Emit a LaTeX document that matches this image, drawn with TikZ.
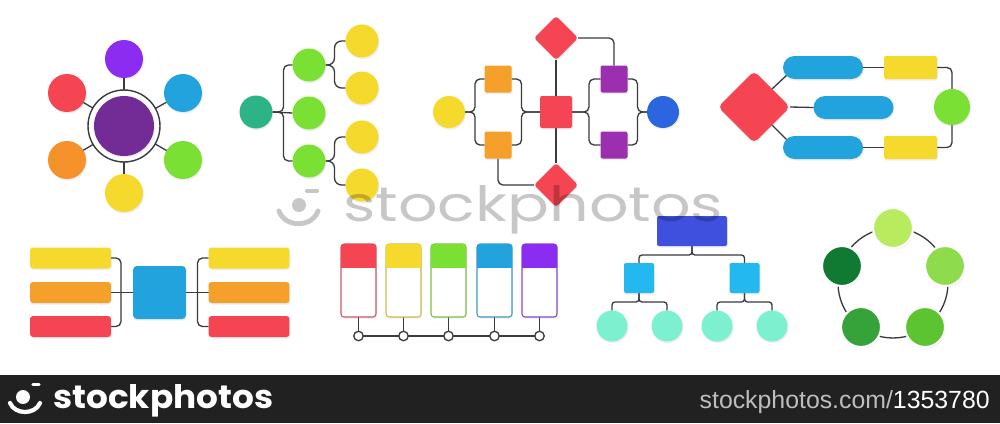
\documentclass[tikz,border=0pt]{standalone}
\usepackage{fontspec}
\usetikzlibrary{shapes.geometric,shadows,calc}
\newfontfamily\logofont{Poppins}
\newfontfamily\urlfont{Liberation Sans}
\definecolor{lineC}{HTML}{3A3A40}
\definecolor{cPurple}{HTML}{8B2CF0}
\definecolor{cDeep}{HTML}{732B95}
\definecolor{cRed}{HTML}{F54452}
\definecolor{cBlue}{HTML}{22A3DE}
\definecolor{cOrange}{HTML}{F5922B}
\definecolor{cOrange2}{HTML}{F5A02A}
\definecolor{cGreen}{HTML}{7BE034}
\definecolor{cYellow}{HTML}{F6D92D}
\definecolor{cTeal}{HTML}{2DB486}
\definecolor{cViolet}{HTML}{9C2FB0}
\definecolor{cRoyal}{HTML}{2B66E0}
\definecolor{cIndigo}{HTML}{4050DE}
\definecolor{cCyan}{HTML}{23B9F0}
\definecolor{cMint}{HTML}{7DF0CF}
\definecolor{gA}{HTML}{B8EC5E}
\definecolor{gB}{HTML}{8EDC4C}
\definecolor{gC}{HTML}{5CC431}
\definecolor{gD}{HTML}{35A339}
\definecolor{gE}{HTML}{107A33}
\definecolor{barC}{HTML}{212121}
\definecolor{urlGrey}{HTML}{BDBDBD}
\pgfdeclarelayer{back}
\pgfdeclarelayer{bg}
\pgfsetlayers{back,bg,main}
\begin{document}
\begin{tikzpicture}[x=0.02cm,y=-0.02cm,
  conn/.style={draw=lineC, line width=0.75pt, rounded corners=0.1cm},
  shd/.style={drop shadow={opacity=0.13, shadow xshift=0.5pt, shadow yshift=-0.9pt}},
  dot/.style={circle, inner sep=0pt, outer sep=0pt, minimum size=#1, shd},
  blk/.style={rectangle, inner sep=0pt, outer sep=0pt, shd},
  dia/.style={diamond, aspect=1, inner sep=0pt, outer sep=0pt, minimum width=#1, minimum height=#1, shd},
]
\useasboundingbox (0,0) rectangle (1000,423);
\begin{pgfonlayer}{back}
\fill[white] (0,0) rectangle (1000,423);
\end{pgfonlayer}

% ---------- Group 1: radial ----------
\node[circle, draw=lineC, line width=0.8pt, fill=white, minimum size=1.44cm, inner sep=0pt, outer sep=0pt] (ring) at (124,126) {};
\node[dot=1.2cm, fill=cDeep] (hub) at (124,126) {};
\node[dot=0.76cm, fill=cPurple] (r1) at (124,59) {};
\node[dot=0.76cm, fill=cRed] (r2) at (67,93) {};
\node[dot=0.76cm, fill=cBlue] (r3) at (183,93) {};
\node[dot=0.76cm, fill=cOrange] (r4) at (67,160) {};
\node[dot=0.76cm, fill=cGreen] (r5) at (183,160) {};
\node[dot=0.76cm, fill=cYellow] (r6) at (124,193) {};
\foreach \n in {r1,r2,r3,r4,r5,r6} \draw[conn] (ring) -- (\n);

% ---------- Group 2: tree ----------
\node[dot=0.66cm, fill=cTeal] (root) at (256,112) {};
\node[dot=0.66cm, fill=cGreen] (g1) at (309,65) {};
\node[dot=0.66cm, fill=cGreen] (g2) at (309,113) {};
\node[dot=0.66cm, fill=cGreen] (g3) at (309,161) {};
\node[dot=0.66cm, fill=cYellow] (y1) at (362,41) {};
\node[dot=0.66cm, fill=cYellow] (y2) at (362,88) {};
\node[dot=0.66cm, fill=cYellow] (y3) at (362,137) {};
\node[dot=0.66cm, fill=cYellow] (y4) at (362,185) {};
\begin{pgfonlayer}{bg}
\draw[conn] (root.east) -- ++(11,0) |- (g1.west);
\draw[conn] (root.east) -- (g2.west);
\draw[conn] (root.east) -- ++(11,0) |- (g3.west);
\draw[conn, rounded corners=0.14cm] (g1.east) -- ++(9,0) |- (y1.west);
\draw[conn, rounded corners=0.14cm] (g1.east) -- ++(9,0) |- (y2.west);
\draw[conn, rounded corners=0.14cm] (g3.east) -- ++(9,0) |- (y3.west);
\draw[conn, rounded corners=0.14cm] (g3.east) -- ++(9,0) |- (y4.west);
\end{pgfonlayer}

% ---------- Group 3: flowchart ----------
\node[dot=0.64cm, fill=cYellow] (fy) at (449,112) {};
\node[blk, fill=cOrange2, minimum size=0.54cm, rounded corners=0.04cm] (fo1) at (498,79) {};
\node[blk, fill=cOrange2, minimum size=0.54cm, rounded corners=0.04cm] (fo2) at (498,145) {};
\node[blk, fill=cRed, minimum size=0.64cm, rounded corners=0.04cm] (frs) at (556,112) {};
\node[dia=0.88cm, fill=cRed, rounded corners=0.06cm] (fd1) at (556,38) {};
\node[dia=0.88cm, fill=cRed, rounded corners=0.06cm] (fd2) at (556,185) {};
\node[blk, fill=cViolet, minimum size=0.54cm, rounded corners=0.04cm] (fp1) at (614,79) {};
\node[blk, fill=cViolet, minimum size=0.54cm, rounded corners=0.04cm] (fp2) at (614,145) {};
\node[dot=0.64cm, fill=cRoyal] (fb) at (663,112) {};
\begin{pgfonlayer}{bg}
\draw[conn] (fy.east) -- ++(10,0) |- (fo1.west);
\draw[conn] (fy.east) -- ++(10,0) |- (fo2.west);
\draw[conn] (fo1.east) -- ++(10,0) |- (frs.west);
\draw[conn] (fo2.east) -- ++(10,0) |- (frs.west);
\draw[conn] (frs.east) -- ++(17,0) |- (fp1.west);
\draw[conn] (frs.east) -- ++(17,0) |- (fp2.west);
\draw[conn] (fp1.east) -- ++(10,0) |- (fb.west);
\draw[conn] (fp2.east) -- ++(10,0) |- (fb.west);
\draw[conn] (fd1) -- (frs);
\draw[conn] (frs) -- (fd2);
\draw[conn] (fd1.east) -| (fp1.north);
\draw[conn] (fd2.west) -| (fo2.south);
\end{pgfonlayer}

% ---------- Group 4: decision ----------
\node[dia=1.44cm, fill=cRed, rounded corners=0.1cm] (dd) at (754,107) {};
\node[blk, fill=cBlue, minimum width=1.6cm, minimum height=0.46cm, rounded corners=0.23cm] (pb1) at (823,67.5) {};
\node[blk, fill=cBlue, minimum width=1.6cm, minimum height=0.46cm, rounded corners=0.23cm] (pb2) at (853.5,107.5) {};
\node[blk, fill=cBlue, minimum width=1.6cm, minimum height=0.46cm, rounded corners=0.23cm] (pb3) at (823,147.5) {};
\node[blk, fill=cYellow, minimum width=1.06cm, minimum height=0.46cm, rounded corners=0.03cm] (py1) at (910.5,67.5) {};
\node[blk, fill=cYellow, minimum width=1.06cm, minimum height=0.46cm, rounded corners=0.03cm] (py2) at (910.5,147.5) {};
\node[dot=0.72cm, fill=cGreen] (pg) at (952,107) {};
\begin{pgfonlayer}{bg}
\draw[conn] (dd.north east) -- ($(pb1.south west)+(5,-5)$);
\draw[conn] (dd.east) -- (pb2.west);
\draw[conn] (dd.south east) -- ($(pb3.north west)+(5,5)$);
\draw[conn] (pb1.east) -- (py1.west);
\draw[conn] (pb3.east) -- (py2.west);
\draw[conn] (py1.east) -| (pg.north);
\draw[conn] (py2.east) -| (pg.south);
\end{pgfonlayer}

% ---------- Group 5: bars ----------
\node[blk, fill=cYellow, minimum width=1.62cm, minimum height=0.42cm, rounded corners=0.06cm] (la) at (70.5,258) {};
\node[blk, fill=cOrange2, minimum width=1.62cm, minimum height=0.42cm, rounded corners=0.06cm] (lb) at (70.5,292.5) {};
\node[blk, fill=cRed, minimum width=1.62cm, minimum height=0.42cm, rounded corners=0.06cm] (lc) at (70.5,326.5) {};
\node[blk, fill=cBlue, minimum size=1.06cm, rounded corners=0.08cm] (bsq) at (159.5,292.5) {};
\node[blk, fill=cYellow, minimum width=1.62cm, minimum height=0.42cm, rounded corners=0.06cm] (ra) at (249,258) {};
\node[blk, fill=cOrange2, minimum width=1.62cm, minimum height=0.42cm, rounded corners=0.06cm] (rb) at (249,292.5) {};
\node[blk, fill=cRed, minimum width=1.62cm, minimum height=0.42cm, rounded corners=0.06cm] (rc) at (249,326.5) {};
\begin{pgfonlayer}{bg}
\draw[conn] (la.east) -- ++(10,0) |- (lc.east);
\draw[conn] (lb.east) -- (bsq.west);
\draw[conn] (ra.west) -- ++(-11,0) |- (rc.west);
\draw[conn] (bsq.east) -- (rb.west);
\end{pgfonlayer}

% ---------- Group 6: cards ----------
\foreach \i/\xx/\col in {1/358.5/cRed,2/403.5/cYellow,3/448.5/cGreen,4/494.5/cBlue,5/539.5/cPurple}{
  \node[blk, draw=\col!65!gray, line width=0.6pt, fill=white, minimum width=0.7cm, minimum height=1.46cm, rounded corners=0.06cm] (c\i) at (\xx,280.5) {};
  \begin{scope}
    \clip[rounded corners=0.06cm] (\xx-17.5,244) rectangle (\xx+17.5,317);
    \fill[\col] (\xx-18,243) rectangle (\xx+18,268);
  \end{scope}
  \node[circle, draw=lineC, line width=0.75pt, fill=white, minimum size=0.19cm, inner sep=0pt, outer sep=0pt] (k\i) at (\xx,336) {};
}
\begin{pgfonlayer}{bg}
\foreach \i in {1,...,5} \draw[conn] (c\i.south) -- (k\i.north);
\draw[conn] (k1) -- (k2) -- (k3) -- (k4) -- (k5);
\end{pgfonlayer}

% ---------- Group 7: org chart ----------
\node[blk, fill=cIndigo, minimum width=1.4cm, minimum height=0.6cm, rounded corners=0.04cm] (ot) at (692,231) {};
\node[blk, fill=cCyan, minimum size=0.6cm, rounded corners=0.04cm] (os1) at (639,278) {};
\node[blk, fill=cCyan, minimum size=0.6cm, rounded corners=0.04cm] (os2) at (744.5,278) {};
\node[dot=0.62cm, fill=cMint] (om1) at (612,326) {};
\node[dot=0.62cm, fill=cMint] (om2) at (667,326) {};
\node[dot=0.62cm, fill=cMint] (om3) at (717,326) {};
\node[dot=0.62cm, fill=cMint] (om4) at (772,326) {};
\begin{pgfonlayer}{bg}
\draw[conn, rounded corners=0.06cm] (ot.south) -- ++(0,9) -| (os1.north);
\draw[conn, rounded corners=0.06cm] (ot.south) -- ++(0,9) -| (os2.north);
\draw[conn, rounded corners=0.06cm] (os1.south) -- ++(0,9) -| (om1.north);
\draw[conn, rounded corners=0.06cm] (os1.south) -- ++(0,9) -| (om2.north);
\draw[conn, rounded corners=0.06cm] (os2.south) -- ++(0,9) -| (om3.north);
\draw[conn, rounded corners=0.06cm] (os2.south) -- ++(0,9) -| (om4.north);
\end{pgfonlayer}

% ---------- Group 8: cycle ----------
\coordinate (cyc) at (893,283);
\node[dot=0.8cm, fill=gA, draw=white, line width=1.2pt] (q1) at (893,228) {};
\node[dot=0.8cm, fill=gB, draw=white, line width=1.2pt] (q2) at (945,266) {};
\node[dot=0.8cm, fill=gC, draw=white, line width=1.2pt] (q3) at (925,327) {};
\node[dot=0.8cm, fill=gD, draw=white, line width=1.2pt] (q4) at (861,327) {};
\node[dot=0.8cm, fill=gE, draw=white, line width=1.2pt] (q5) at (842,266) {};
\begin{pgfonlayer}{bg}
\draw[conn] (cyc) circle [radius=55];
\end{pgfonlayer}

% ---------- watermark ----------
\begin{scope}[opacity=0.22]
\node[inner sep=0pt, anchor=base west, text=black] (wm) at (343,221) {\resizebox{7.6cm}{0.72cm}{\logofont stockphotos}};
\node[circle, fill=black, minimum size=0.28cm, inner sep=0pt] (wmdot) at (299,205) {};
\draw[black, line width=2.4pt, line cap=round] (307,191) -- (317,191);
\draw[black, line width=2.8pt, line cap=round] (279,211) .. controls (285,228) and (312,228) .. (318,211);
\end{scope}

% ---------- bottom bar ----------
\fill[barC] (0,375) rectangle (1000,423);
\node[circle, fill=white, minimum size=0.28cm, inner sep=0pt] (bdot) at (23,397) {};
\draw[white, line width=1.8pt, line cap=round] (33,384.5) -- (39,384.5);
\draw[white, line width=2.4pt, line cap=round] (10,403) .. controls (15,415) and (35,415) .. (40,403);
\node[inner sep=0pt, anchor=base west, text=white] (brand) at (53,408) {\resizebox{4.4cm}{0.48cm}{\logofont\bfseries stockphotos}};
\node[inner sep=0pt, anchor=base east] (url) at (990,408) {\resizebox{5.8cm}{!}{\urlfont\textcolor{urlGrey}{stockphotos.com/}\textcolor{white}{1353780}}};
\end{tikzpicture}
\end{document}
